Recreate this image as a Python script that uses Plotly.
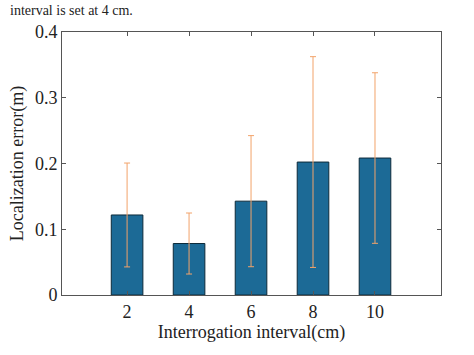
import plotly.graph_objects as go

intervals = [2, 4, 6, 8, 10]
mean_error = [0.1217, 0.0783, 0.1427, 0.2022, 0.2083]
error_std = [0.0790, 0.0464, 0.0997, 0.1603, 0.1297]
tick_labels = ["2", "4", "6", "8", "10"]

font_family = "Liberation Serif, Times New Roman, serif"

fig = go.Figure()
fig.add_trace(go.Bar(
    x=intervals, y=mean_error, width=1.02,
    marker=dict(color="#1c6a96", line=dict(color="#0d2a3a", width=1)),
    error_y=dict(type="data", array=error_std, visible=True,
                 color="#f2a36a", thickness=1, width=3),
))

axis_common = dict(
    showline=True, linecolor="#555555", linewidth=1, mirror="ticks",
    ticks="inside", ticklen=4, tickcolor="#555555", showgrid=False,
    zeroline=False, automargin=False,
    tickfont=dict(family=font_family, size=18, color="#222222"),
)

fig.update_layout(
    width=474, height=355,
    margin=dict(l=62, r=33, t=32, b=60),
    paper_bgcolor="white", plot_bgcolor="white",
    showlegend=False,
    font=dict(family=font_family, color="#222222"),
    xaxis=dict(range=[-0.1, 12.13], tickvals=intervals, ticktext=tick_labels,
               title=dict(text="Interrogation interval(cm)", standoff=2,
                          font=dict(family=font_family, size=18)),
               **axis_common),
    yaxis=dict(range=[0, 0.4], tickvals=[0, 0.1, 0.2, 0.3, 0.4],
               ticktext=["0", "0.1", "0.2", "0.3", "0.4"],
               title=dict(text="Localization error(m)", standoff=6,
                          font=dict(family=font_family, size=18)),
               **axis_common),
    annotations=[dict(text="interval is set at 4 cm.", xref="paper", yref="paper",
                      x=-0.1425, y=1.118, xanchor="left", yanchor="top",
                      showarrow=False,
                      font=dict(family=font_family, size=14, color="#222222"))],
)

fig.write_html("out.html", config={"displayModeBar": False},
               post_script="document.body.style.margin='0';document.body.style.padding='0';")
